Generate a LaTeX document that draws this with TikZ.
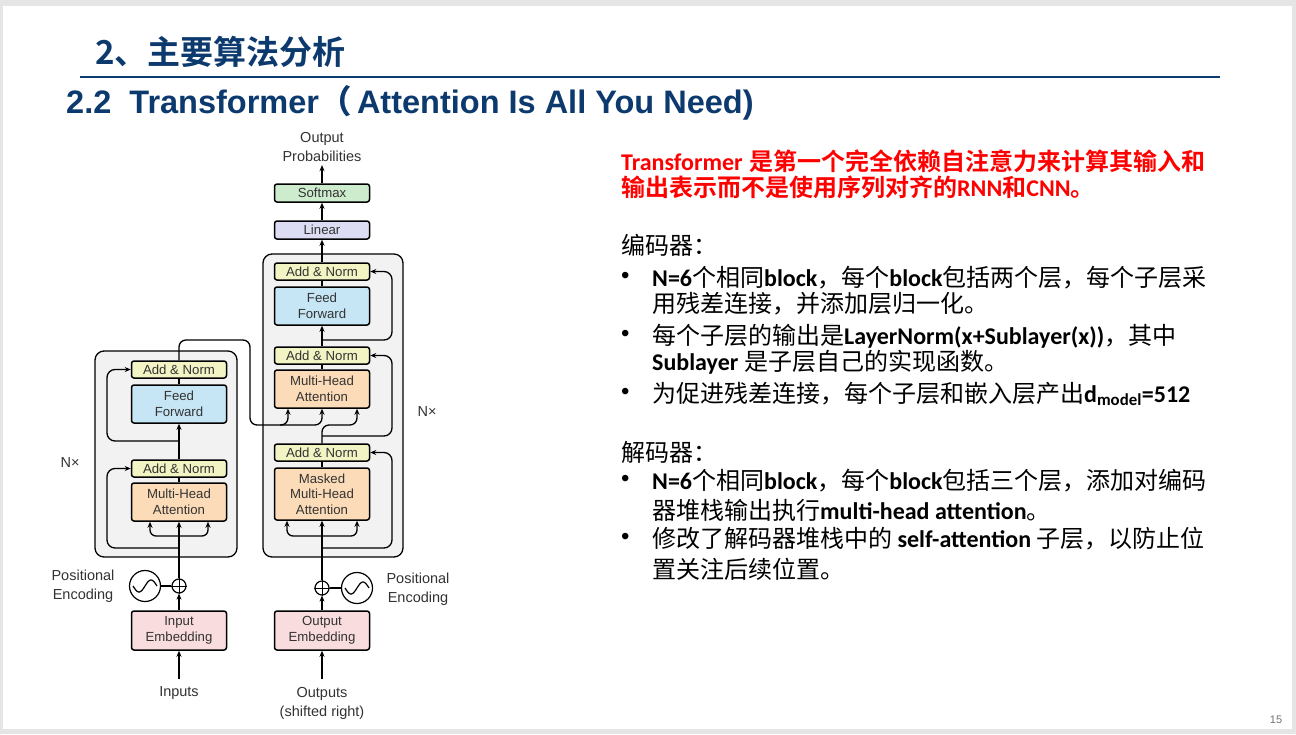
\documentclass[tikz,border=0pt]{standalone}
\usepackage{fontspec}
\setmainfont{Liberation Sans}
\newfontfamily\cj{Noto Sans CJK SC}
\newfontfamily\cjb{Noto Sans CJK SC Bold}
\newfontfamily\lat{Carlito}
\usetikzlibrary{arrows.meta}
\definecolor{navy}{HTML}{0D3A6E}
\definecolor{anc}{HTML}{F2F4C4}
\definecolor{ffc}{HTML}{C6E6F5}
\definecolor{mhc}{HTML}{FCDCB8}
\definecolor{embc}{HTML}{F9DCDD}
\definecolor{smc}{HTML}{CDEBCD}
\definecolor{linc}{HTML}{DCDDF2}
\definecolor{txg}{HTML}{333333}
\tikzset{
 blk/.style={draw=black,line width=1.5pt,rounded corners=2.5pt,minimum width=95pt,align=center,inner sep=0pt,font=\fontsize{13.2}{15.5}\selectfont,text=txg},
 stack/.style={draw=black,line width=1.3pt,rounded corners=9pt,fill=black!5},
 arr/.style={line width=1.3pt,-{Stealth[length=6pt,width=5pt]}},
 ln/.style={line width=1.3pt},
 lab/.style={font=\fontsize{14.5}{19}\selectfont,text=txg,align=center},
 tx/.style={anchor=west,inner sep=0pt,font=\fontsize{24}{26}\selectfont},
}
\newcommand{\B}[1]{{\lat\bfseries #1}}
\begin{document}
\begin{tikzpicture}[x=1pt,y=-1pt]
\fill[black!10] (0,0) rectangle (1296,734);
\fill[white] (3,6) rectangle (1292,729);
\useasboundingbox (0,0) rectangle (1296,734);
% titles
\node[anchor=west,inner sep=0pt,text=navy,font=\cjb\fontsize{33}{35}\selectfont] (t1) at (95,52) {2、主要算法分析};
\draw[navy,line width=2.5pt] (80,77) -- (1220,77);
\node[anchor=west,inner sep=0pt,text=navy,font=\bfseries\fontsize{32.5}{34}\selectfont] (t2) at (66,103) {2.2\ \ Transformer{\cjb（}\,Attention Is All You Need)};
\node[text=black!55,font=\fontsize{11}{12}\selectfont] (pg) at (1276,720) {15};
% stacks
\draw[stack] (95,351) rectangle (237,557);
\draw[stack] (263,254) rectangle (403,557);
% encoder
\node[blk,fill=anc,minimum height=17pt] (ean2) at (179,369.5) {Add \& Norm};
\node[blk,fill=ffc,minimum height=38pt] (eff) at (179,404) {Feed\\Forward};
\node[blk,fill=anc,minimum height=17pt] (ean1) at (179,468.5) {Add \& Norm};
\node[blk,fill=mhc,minimum height=38pt] (emha) at (179,502) {Multi-Head\\Attention};
\node[blk,fill=embc,minimum height=39pt] (eemb) at (179,630.5) {Input\\Embedding};
\node[draw,circle,line width=1.2pt,minimum size=14pt,inner sep=0pt] (eplus) at (179,586) {};
\draw[line width=1pt] (eplus.north)--(eplus.south) (eplus.west)--(eplus.east);
\node[draw,circle,line width=1.2pt,minimum size=31pt,inner sep=0pt] (esin) at (145,586) {};
\draw[line width=1.2pt] plot[domain=-12:12,samples=40] ({145+\x},{586-6*sin(\x*15)});
\draw[ln] (esin.east) -- (eplus.west);
\node[lab] (inl) at (179,693) {Inputs};
\node[lab] (pel) at (83,586) {Positional\\Encoding};
\node[lab] (nxl) at (70,463) {N×};
% decoder
\node[blk,fill=smc,minimum height=18pt] (soft) at (322,193) {Softmax};
\node[blk,fill=linc,minimum height=18pt] (lin) at (322,230) {Linear};
\node[blk,fill=anc,minimum height=17pt] (dan3) at (322,271.5) {Add \& Norm};
\node[blk,fill=ffc,minimum height=38pt] (dff) at (322,306) {Feed\\Forward};
\node[blk,fill=anc,minimum height=17pt] (dan2) at (322,355.5) {Add \& Norm};
\node[blk,fill=mhc,minimum height=38pt] (dmha) at (322,389) {Multi-Head\\Attention};
\node[blk,fill=anc,minimum height=17pt] (dan1) at (322,452.5) {Add \& Norm};
\node[blk,fill=mhc,minimum height=52pt] (dmmha) at (322,494) {Masked\\Multi-Head\\Attention};
\node[blk,fill=embc,minimum height=39pt] (demb) at (322,630.5) {Output\\Embedding};
\node[draw,circle,line width=1.2pt,minimum size=14pt,inner sep=0pt] (dplus) at (322,588) {};
\draw[line width=1pt] (dplus.north)--(dplus.south) (dplus.west)--(dplus.east);
\node[draw,circle,line width=1.2pt,minimum size=31pt,inner sep=0pt] (dsin) at (357,588) {};
\draw[line width=1.2pt] plot[domain=-12:12,samples=40] ({357+\x},{588-6*sin(\x*15)});
\draw[ln] (dsin.west) -- (dplus.east);
\node[lab] (outl) at (322,703) {Outputs\\(shifted right)};
\node[lab] (pdl) at (418,589) {Positional\\Encoding};
\node[lab] (nxr) at (427,412) {N×};
\node[lab] (oprob) at (322,147) {Output\\Probabilities};
% encoder wiring
\coordinate (inb) at (179,679);
\coordinate (outb) at (322,679);
\draw[arr] (inb) -- (eemb.south);
\draw[arr] (eemb.north) -- (eplus.south);
\draw[arr] (eplus.north) -- (emha.south);
\draw[arr,rounded corners=6pt] (179,536) -| ([xshift=-29pt]emha.south);
\draw[arr,rounded corners=6pt] (179,536) -| ([xshift=29pt]emha.south);
\draw[arr,rounded corners=8pt] (179,548) -- (107,548) -- (107,468.5) -- (ean1.west);
\draw[ln] (emha.north) -- (ean1.south);
\draw[arr] (ean1.north) -- (eff.south);
\draw[ln] (eff.north) -- (ean2.south);
\draw[arr,rounded corners=8pt] (179,441) -- (107,441) -- (107,369.5) -- (ean2.west);
\draw[arr,rounded corners=7pt] (ean2.north) -- (179,340) -- (250,340) -- (250,425) -- (288,425) -- ([xshift=-34pt]dmha.south);
\draw[arr,rounded corners=7pt] (280,425) -- (322,425) -- (dmha.south);
% decoder wiring
\draw[arr] (outb) -- (demb.south);
\draw[arr] (demb.north) -- (dplus.south);
\draw[arr] (dplus.north) -- (dmmha.south);
\draw[arr,rounded corners=6pt] (322,536) -| ([xshift=-35pt]dmmha.south);
\draw[arr,rounded corners=6pt] (322,536) -| ([xshift=35pt]dmmha.south);
\draw[arr,rounded corners=8pt] (322,548) -- (392,548) -- (392,452.5) -- (dan1.east);
\draw[ln] (dmmha.north) -- (dan1.south);
\draw[arr,rounded corners=7pt] (dan1.north) -- (322,425) -- (357,425) -- ([xshift=35pt]dmha.south);
\draw[arr,rounded corners=8pt] (322,436) -- (392,436) -- (392,355.5) -- (dan2.east);
\draw[ln] (dmha.north) -- (dan2.south);
\draw[arr] (dan2.north) -- (dff.south);
\draw[ln] (dff.north) -- (dan3.south);
\draw[arr,rounded corners=8pt] (322,340) -- (392,340) -- (392,271.5) -- (dan3.east);
\draw[arr] (dan3.north) -- (lin.south);
\draw[arr] (lin.north) -- (soft.south);
\draw[arr] (soft.north) -- (oprob.south);
% right text
\node[tx,text=red] (r1) at (621,161) {\B{Transformer} \cjb 是第一个完全依赖自注意力来计算其输入和};
\node[tx,text=red] (r2) at (621,187) {\cjb 输出表示而不是使用序列对齐的\B{RNN}和\B{CNN}。};
\node[tx] (h1) at (621,245) {\cj 编码器：};
\node[tx] (b1) at (621,278) {\textbullet};
\node[tx] (l1) at (652,278) {\B{N=6}\cj 个相同\B{block}，每个\B{block}包括两个层，每个子层采};
\node[tx] (l2) at (652,304) {\cj 用残差连接，并添加层归一化。};
\node[tx] (b2) at (621,336) {\textbullet};
\node[tx] (l3) at (652,336) {\cj 每个子层的输出是\B{LayerNorm(x+Sublayer(x))}，其中};
\node[tx] (l4) at (652,362) {\B{Sublayer} \cj 是子层自己的实现函数。};
\node[tx] (b3) at (621,394) {\textbullet};
\node[tx] (l5) at (652,394) {\cj 为促进残差连接，每个子层和嵌入层产出\B{d\textsubscript{model}=512}};
\node[tx] (h2) at (621,452) {\cj 解码器：};
\node[tx] (b4) at (621,481) {\textbullet};
\node[tx] (l6) at (652,481) {\B{N=6}\cj 个相同\B{block}，每个\B{block}包括三个层，添加对编码};
\node[tx] (l7) at (652,510) {\cj 器堆栈输出执行\B{multi-head attention}。};
\node[tx] (b5) at (621,539) {\textbullet};
\node[tx] (l8) at (652,539) {\cj 修改了解码器堆栈中的 \B{self-attention} 子层，以防止位};
\node[tx] (l9) at (652,569) {\cj 置关注后续位置。};
\end{tikzpicture}
\end{document}
